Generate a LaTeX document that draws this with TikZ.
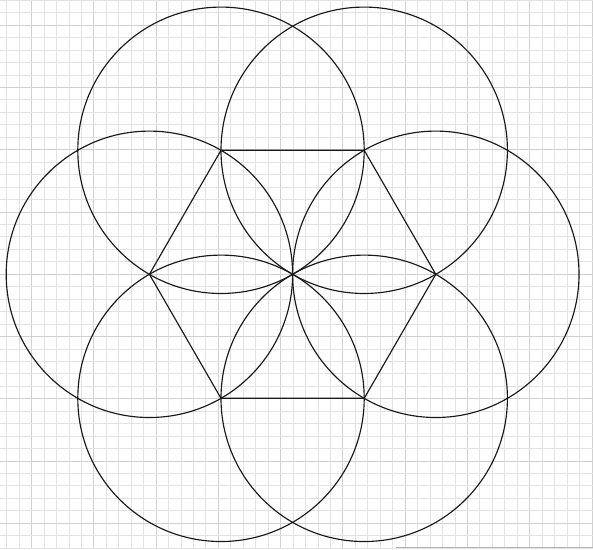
\documentclass[tikz,border=0pt]{standalone}
\usetikzlibrary{calc}
\begin{document}
\begin{tikzpicture}[x=1pt,y=-1pt,
  minorgrid/.style={draw=black!11,line width=0.9pt},
  majorgrid/.style={draw=black!18,line width=0.9pt},
  figline/.style={draw=black!90,line width=1.15pt}]
\useasboundingbox (0,0) rectangle (593,549);
\fill[white] (0,0) rectangle (593,549);
% grid
\foreach \k in {0,...,47}{
  \pgfmathsetmacro{\gx}{6.7+12.452*\k}
  \pgfmathtruncatemacro{\m}{mod(\k,5)}
  \ifnum\m=2 \draw[majorgrid] (\gx,0) -- (\gx,549);
  \else \draw[minorgrid] (\gx,0) -- (\gx,549); \fi
}
\foreach \k in {0,...,44}{
  \pgfmathsetmacro{\gy}{0.3+12.452*\k}
  \pgfmathtruncatemacro{\m}{mod(\k,5)}
  \ifnum\m=2 \draw[majorgrid] (0,\gy) -- (593,\gy);
  \else \draw[minorgrid] (0,\gy) -- (593,\gy); \fi
}
\draw[draw=black!30,line width=1pt] (396,547.8) -- (593,547.8);
% hexagon vertices
\coordinate (O) at (292.6,274.3);
\foreach \i/\a in {1/0,2/60,3/120,4/180,5/240,6/300}{
  \coordinate (v\i) at ($(O)+(\a:143.2pt)$);
}
% circles centred on the vertices
\foreach \i in {1,...,6}{
  \draw[figline] (v\i) circle[radius=143.2pt];
}
% hexagon
\draw[figline,line join=round] (v1) -- (v2) -- (v3) -- (v4) -- (v5) -- (v6) -- cycle;
\end{tikzpicture}
\end{document}
